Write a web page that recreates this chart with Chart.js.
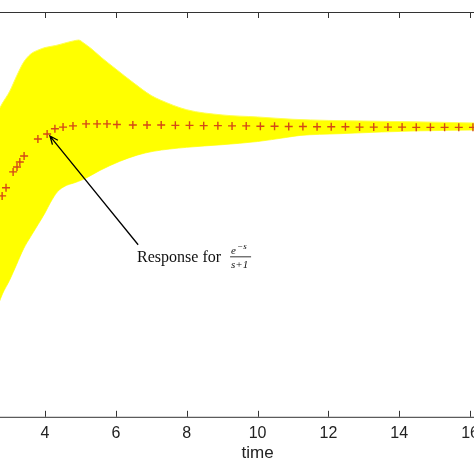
<!DOCTYPE html>
<html>
<head>
<meta charset="utf-8">
<script src="https://cdn.jsdelivr.net/npm/chart.js@4/dist/chart.umd.min.js"></script>
<style>
  html, body { margin: 0; padding: 0; background: #fff; }
  #wrap { width: 474px; height: 474px; }
</style>
</head>
<body>
<div id="wrap"><canvas id="chart" width="474" height="474"></canvas></div>
<script>
// Tick labels on the time axis
const timeTicks = [4, 6, 8, 10, 12, 14, 16];
const axisTitle = 'time';
const axisTitleAt = 10; // time value under the centre of the axis title

// Upper edge of the yellow bundle of responses
const upperTime = [2.6, 2.8, 3.0, 3.2, 3.4, 3.6, 3.8, 4.0, 4.3, 4.6, 4.8, 4.95, 5.1, 5.3, 5.6, 6.0, 6.5, 7.0, 7.25, 8.0, 9.0, 10.0, 11.0, 12.0, 13.0, 14.0, 15.0, 16.2];
const upperValue = [1.04, 1.085, 1.125, 1.179, 1.227, 1.255, 1.268, 1.277, 1.284, 1.294, 1.300, 1.303, 1.292, 1.274, 1.242, 1.203, 1.155, 1.111, 1.096, 1.062, 1.044, 1.037, 1.029, 1.025, 1.023, 1.021, 1.019, 1.016];

// Lower edge of the yellow bundle
const lowerTime = [2.6, 2.8, 3.0, 3.2, 3.4, 3.6, 3.8, 4.0, 4.15, 4.35, 4.6, 4.8, 5.1, 5.55, 6.1, 6.6, 7.05, 8.0, 9.0, 10.0, 10.8, 11.2, 12.3, 13.5, 14.6, 16.2];
const lowerValue = [0.36, 0.425, 0.472, 0.527, 0.582, 0.624, 0.664, 0.705, 0.74, 0.778, 0.80, 0.808, 0.822, 0.852, 0.883, 0.905, 0.918, 0.932, 0.941, 0.952, 0.966, 0.973, 0.979, 0.985, 0.989, 0.992];

// Nominal response e^-s/(s+1) (red + markers)
const markerTime = [2.79, 2.9, 3.1, 3.21, 3.29, 3.41, 3.8, 4.06, 4.28, 4.51, 4.79, 5.16, 5.47, 5.75, 6.03,
  6.48, 6.88, 7.28, 7.68, 8.08, 8.48, 8.88, 9.28, 9.68, 10.08, 10.48, 10.88, 11.28, 11.68, 12.08,
  12.48, 12.88, 13.28, 13.68, 14.08, 14.48, 14.88, 15.28, 15.68, 16.08];
const markerValue = [0.764, 0.792, 0.847, 0.864, 0.881, 0.902, 0.961, 0.978, 0.996, 1.002, 1.006, 1.013, 1.013, 1.013, 1.011,
  1.009, 1.009, 1.009, 1.008, 1.008, 1.007, 1.007, 1.006, 1.006, 1.005, 1.005, 1.004, 1.004, 1.003, 1.003,
  1.003, 1.002, 1.002, 1.002, 1.002, 1.001, 1.001, 1.001, 1.001, 1.001];

// Annotation anchor points (data coordinates)
const arrowTip = { t: 4.14, v: 0.971 };
const arrowTail = { t: 6.63, v: 0.595 };
const labelAt = { t: 6.6, v: 0.536 };

const toPoints = (xs, ys) => xs.map((x, i) => ({ x, y: ys[i] }));

// Box lines with inward ticks, axis title, the arrow and the label
const framePlugin = {
  id: 'frame',
  afterDatasetsDraw(chart) {
    const { ctx, chartArea, scales } = chart;
    const xs = scales.x, ys = scales.y;
    ctx.save();
    ctx.strokeStyle = '#333';
    ctx.lineWidth = 1;
    ctx.beginPath();
    ctx.moveTo(chartArea.left, chartArea.top + 0.5);
    ctx.lineTo(chartArea.right, chartArea.top + 0.5);
    ctx.moveTo(chartArea.left, chartArea.bottom + 0.5);
    ctx.lineTo(chartArea.right, chartArea.bottom + 0.5);
    timeTicks.forEach(t => {
      const px = Math.round(xs.getPixelForValue(t)) + 0.5;
      ctx.moveTo(px, chartArea.top);
      ctx.lineTo(px, chartArea.top + 6);
      ctx.moveTo(px, chartArea.bottom);
      ctx.lineTo(px, chartArea.bottom - 6);
    });
    ctx.stroke();

    // axis title, centred under the original full axis
    ctx.fillStyle = '#222';
    ctx.font = '17px "Liberation Sans", Arial, sans-serif';
    ctx.textAlign = 'center';
    ctx.textBaseline = 'middle';
    ctx.fillText(axisTitle, xs.getPixelForValue(axisTitleAt), chartArea.bottom + 37);
    ctx.textAlign = 'left';

    // arrow
    const x1 = xs.getPixelForValue(arrowTail.t), y1 = ys.getPixelForValue(arrowTail.v);
    const x2 = xs.getPixelForValue(arrowTip.t), y2 = ys.getPixelForValue(arrowTip.v);
    const ang = Math.atan2(y2 - y1, x2 - x1);
    ctx.strokeStyle = '#000';
    ctx.lineWidth = 1.3;
    ctx.beginPath();
    ctx.moveTo(x1, y1);
    ctx.lineTo(x2, y2);
    ctx.moveTo(x2 - 9 * Math.cos(ang - 0.4), y2 - 9 * Math.sin(ang - 0.4));
    ctx.lineTo(x2, y2);
    ctx.lineTo(x2 - 9 * Math.cos(ang + 0.4), y2 - 9 * Math.sin(ang + 0.4));
    ctx.stroke();

    // label with the transfer function
    const lx = xs.getPixelForValue(labelAt.t), ly = ys.getPixelForValue(labelAt.v);
    ctx.fillStyle = '#111';
    ctx.textBaseline = 'alphabetic';
    ctx.font = '16px "Liberation Serif", "Times New Roman", serif';
    ctx.fillText('Response for', lx, ly);
    const fx = lx + ctx.measureText('Response for').width + 9;
    ctx.font = 'italic 11px "Liberation Serif", "Times New Roman", serif';
    ctx.fillText('e', fx + 1, ly - 8);
    ctx.font = 'italic 9px "Liberation Serif", "Times New Roman", serif';
    ctx.fillText('\u2212s', fx + 7, ly - 13);
    ctx.font = 'italic 11px "Liberation Serif", "Times New Roman", serif';
    ctx.fillText('s+1', fx + 1, ly + 6);
    ctx.lineWidth = 0.8;
    ctx.beginPath();
    ctx.moveTo(fx, ly - 5);
    ctx.lineTo(fx + 21, ly - 5);
    ctx.stroke();
    ctx.restore();
  }
};

new Chart(document.getElementById('chart'), {
  type: 'line',
  data: {
    datasets: [
      {
        label: 'nominal',
        data: toPoints(markerTime, markerValue),
        showLine: false,
        pointStyle: 'cross',
        pointRadius: 4,
        pointBorderWidth: 1.4,
        pointBorderColor: 'rgb(212, 72, 22)',
        pointBackgroundColor: 'rgb(212, 72, 22)'
      },
      {
        label: 'upper',
        data: toPoints(upperTime, upperValue),
        borderColor: 'rgb(255, 255, 80)',
        borderWidth: 1,
        backgroundColor: 'rgb(255, 255, 0)',
        fill: '+1',
        pointRadius: 0,
        cubicInterpolationMode: 'monotone'
      },
      {
        label: 'lower',
        data: toPoints(lowerTime, lowerValue),
        borderColor: 'rgb(255, 255, 80)',
        borderWidth: 1,
        fill: false,
        pointRadius: 0,
        cubicInterpolationMode: 'monotone'
      }
    ]
  },
  options: {
    responsive: false,
    animation: false,
    devicePixelRatio: 1,
    layout: { autoPadding: false, padding: { top: 12, left: 0, right: 0, bottom: 24 } },
    plugins: { legend: { display: false }, tooltip: { enabled: false } },
    scales: {
      x: {
        type: 'linear',
        min: 2.73,
        max: 16.11,
        afterBuildTicks: (scale) => { scale.ticks = timeTicks.map(value => ({ value })); },
        // let the cut-off "16" run past the edge instead of shrinking the plot
        afterFit: (scale) => { scale.paddingLeft = 0; scale.paddingRight = 0; },
        grid: { display: false, drawTicks: false },
        border: { display: false },
        ticks: {
          color: '#222',
          padding: 7,
          maxRotation: 0,
          font: { family: '"Liberation Sans", Arial, sans-serif', size: 16 }
        }
      },
      y: {
        type: 'linear',
        min: 0,
        max: 1.4,
        display: false
      }
    }
  },
  plugins: [framePlugin]
});
</script>
</body>
</html>
